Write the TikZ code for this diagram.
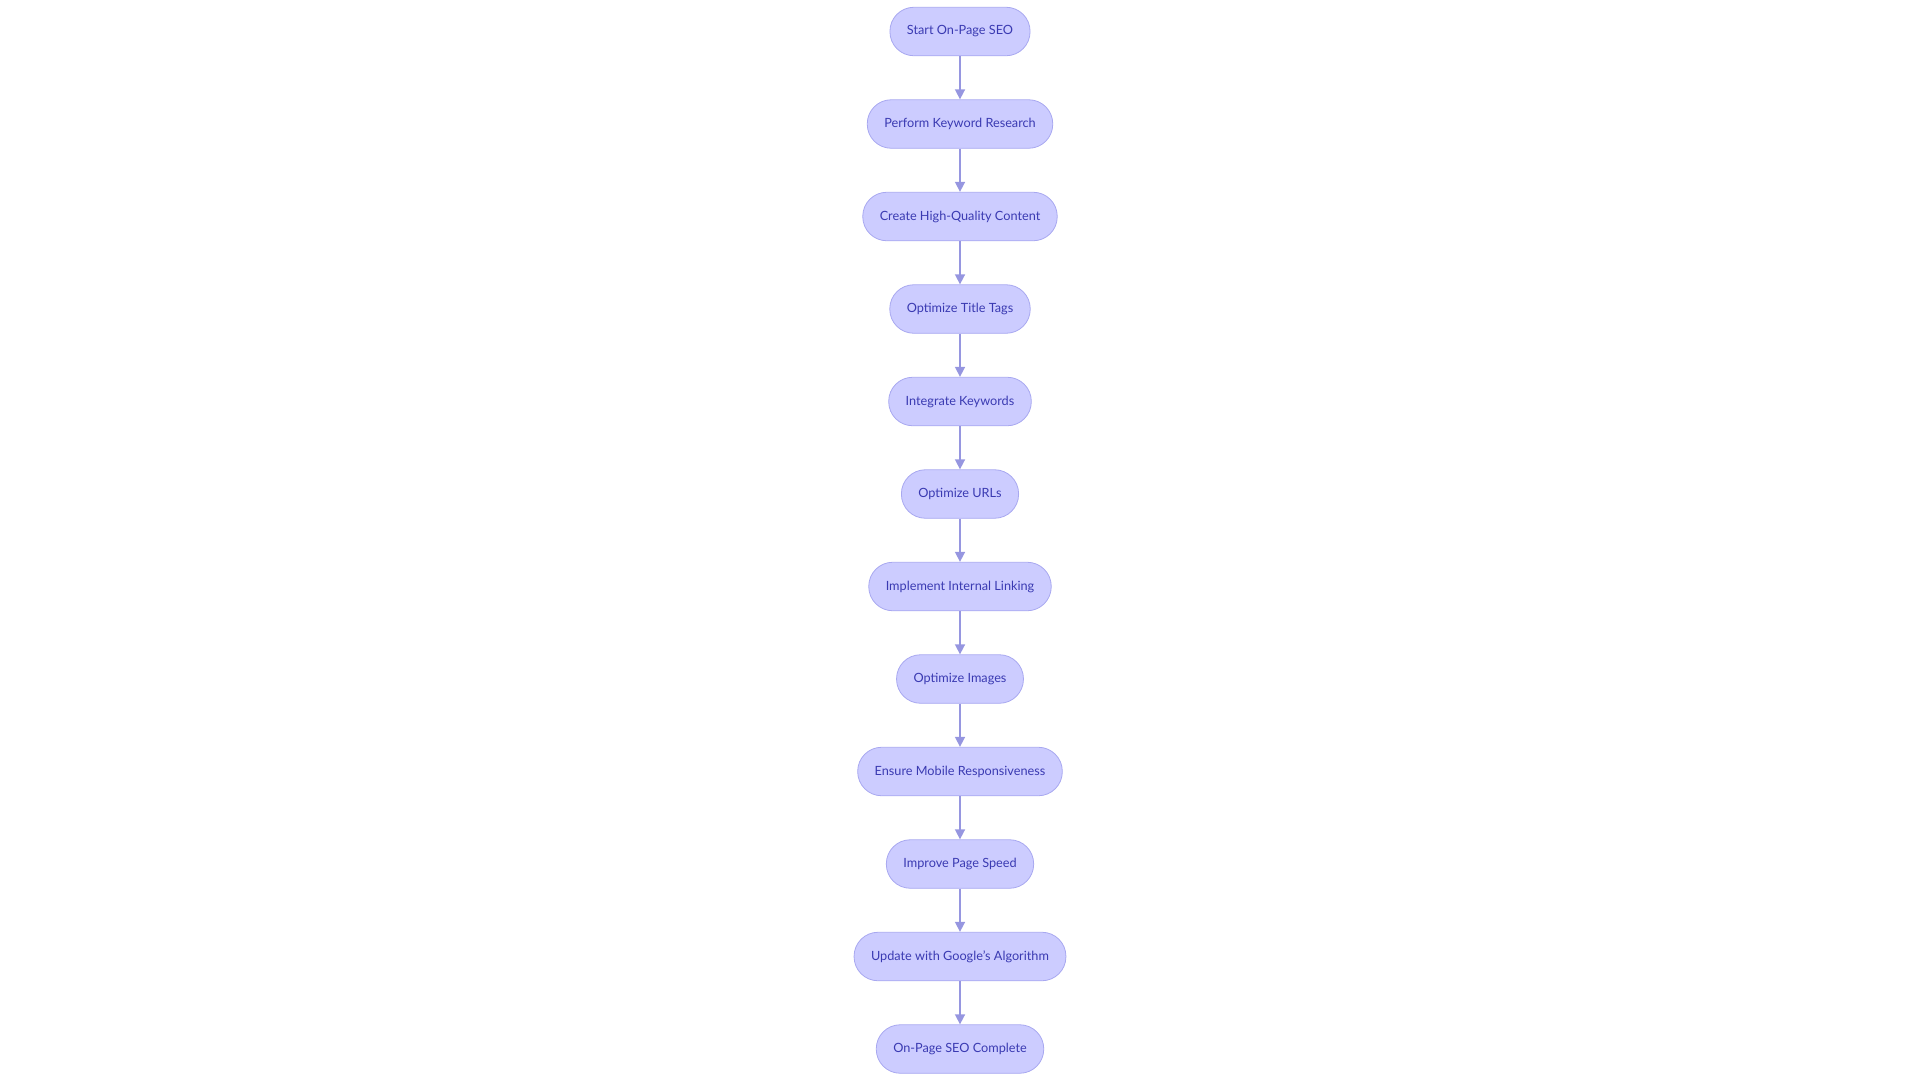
\documentclass[tikz,border=0pt]{standalone}
\usepackage{fontspec}
\setmainfont{Lato}
\usetikzlibrary{positioning,arrows.meta}
\definecolor{stepfill}{RGB}{204,204,255}
\definecolor{stepline}{RGB}{168,168,240}
\definecolor{steptext}{RGB}{58,58,178}
\definecolor{flowline}{RGB}{150,150,224}
\tikzset{
  stepbox/.style={draw=stepline, line width=0.8pt, fill=stepfill, text=steptext,
    rounded corners=24pt, minimum height=48.5pt, inner xsep=17pt,
    font=\fontsize{12.7}{15}\selectfont},
  flow/.style={draw=flowline, line width=1.6pt, -{Triangle[length=10pt,width=10pt]}}
}
\begin{document}
\begin{tikzpicture}[x=1pt,y=1pt,node distance=43.2pt]
\useasboundingbox (0,0) rectangle (1920,-1080);
\node[stepbox] (start) at (960,-31.5) {Start On-Page SEO};
\node[stepbox, below=of start] (keyword) {Perform Keyword Research};
\node[stepbox, below=of keyword] (content) {Create High-Quality Content};
\node[stepbox, below=of content] (title) {Optimize Title Tags};
\node[stepbox, below=of title] (integrate) {Integrate Keywords};
\node[stepbox, below=of integrate] (urls) {Optimize URLs};
\node[stepbox, below=of urls] (linking) {Implement Internal Linking};
\node[stepbox, below=of linking] (images) {Optimize Images};
\node[stepbox, below=of images] (mobile) {Ensure Mobile Responsiveness};
\node[stepbox, below=of mobile] (speed) {Improve Page Speed};
\node[stepbox, below=of speed] (algorithm) {Update with Google's Algorithm};
\node[stepbox, below=of algorithm] (complete) {On-Page SEO Complete};
\foreach \a/\b in {start/keyword,keyword/content,content/title,title/integrate,
  integrate/urls,urls/linking,linking/images,images/mobile,mobile/speed,
  speed/algorithm,algorithm/complete}
  \draw[flow] (\a) -- (\b);
\end{tikzpicture}
\end{document}
